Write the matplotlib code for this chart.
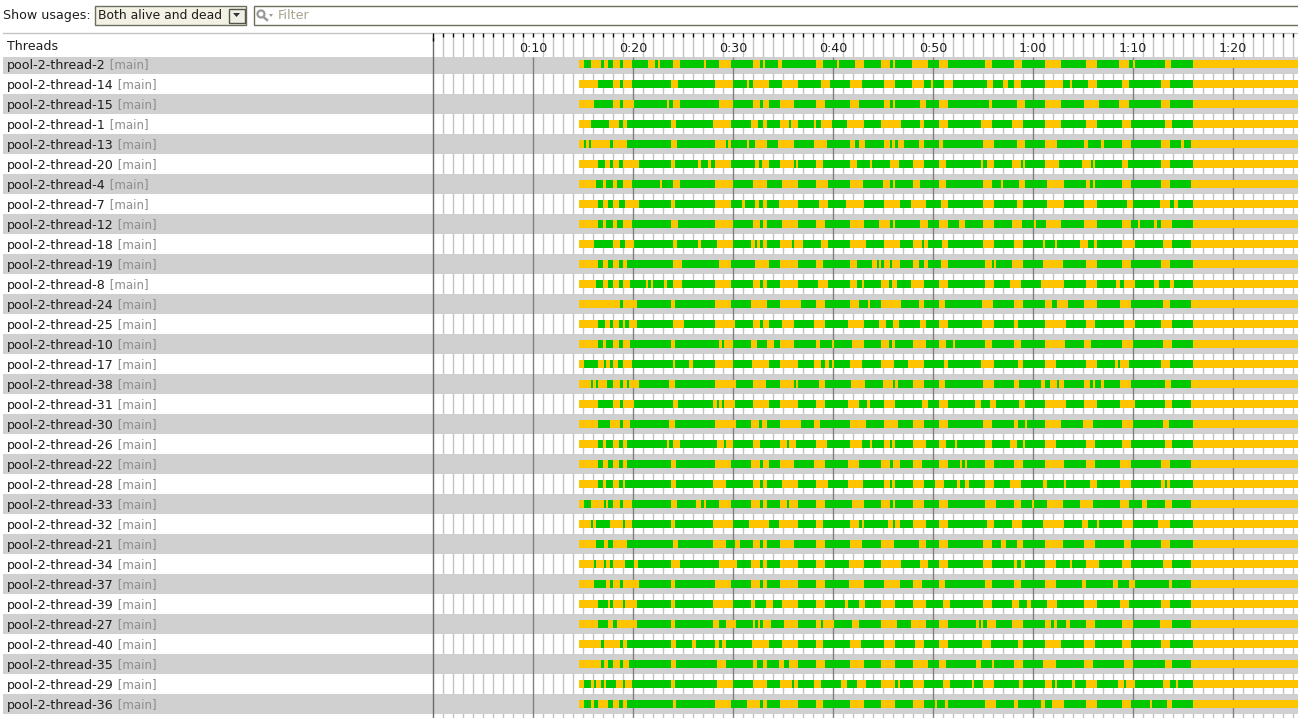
import matplotlib
matplotlib.use("Agg")
import matplotlib.pyplot as plt
from matplotlib.patches import Rectangle, Polygon, Circle

# Thread names top to bottom
thread_names = [
    "pool-2-thread-2", "pool-2-thread-14", "pool-2-thread-15", "pool-2-thread-1",
    "pool-2-thread-13", "pool-2-thread-20", "pool-2-thread-4", "pool-2-thread-7",
    "pool-2-thread-12", "pool-2-thread-18", "pool-2-thread-19", "pool-2-thread-8",
    "pool-2-thread-24", "pool-2-thread-25", "pool-2-thread-10", "pool-2-thread-17",
    "pool-2-thread-38", "pool-2-thread-31", "pool-2-thread-30", "pool-2-thread-26",
    "pool-2-thread-22", "pool-2-thread-28", "pool-2-thread-33", "pool-2-thread-32",
    "pool-2-thread-21", "pool-2-thread-34", "pool-2-thread-37", "pool-2-thread-39",
    "pool-2-thread-27", "pool-2-thread-40", "pool-2-thread-35", "pool-2-thread-29",
    "pool-2-thread-36",
]

# Time axis labels, every 10 seconds
time_ticks = [10, 20, 30, 40, 50, 60, 70, 80]
time_labels = ["0:10", "0:20", "0:30", "0:40", "0:50", "1:00", "1:10", "1:20"]

# Every thread is alive (yellow) from this time on, seconds
alive_start = 14.6
alive_end = 90

# Running periods (green) per thread, (start, end) in seconds
running = [
    [(15.1, 15.8), (16.8, 17.1), (17.5, 18.0), (18.7, 19.0), (19.9, 21.5), (22.2, 22.5), (22.7, 24.0), (24.7, 27.1), (27.3, 28.6), (29.8, 32.0), (32.7, 33.0), (33.2, 34.5), (34.9, 38.3), (39.0, 40.4), (40.6, 42.2), (43.1, 44.8), (45.7, 46.0), (46.2, 47.9), (49.5, 50.6), (51.5, 55.2), (55.9, 58.1), (58.9, 61.2), (62.8, 65.3), (66.4, 68.6), (69.6, 70.0), (70.2, 73.2), (73.8, 76.0)],
    [(16.5, 18.0), (18.7, 19.0), (19.9, 23.8), (24.5, 28.2), (30.0, 31.4), (31.6, 32.0), (33.6, 34.9), (36.5, 38.8), (39.7, 41.7), (42.9, 45.1), (46.2, 47.9), (49.1, 49.8), (50.0, 51.1), (52.0, 55.4), (56.0, 57.0), (57.5, 58.1), (58.8, 61.2), (63.0, 63.7), (63.9, 65.5), (66.4, 68.9), (69.6, 72.8), (73.7, 76.0)],
    [(16.1, 18.0), (18.7, 19.0), (20.1, 23.4), (23.6, 24.0), (24.7, 28.6), (30.0, 32.0), (32.7, 33.0), (33.6, 34.7), (36.1, 38.3), (39.2, 41.7), (42.6, 45.1), (45.7, 46.0), (46.2, 48.7), (49.3, 50.6), (51.5, 55.6), (55.9, 58.4), (59.2, 61.2), (62.8, 65.1), (66.6, 68.6), (69.6, 72.8), (73.7, 76.0)],
    [(15.8, 17.6), (18.6, 19.0), (19.4, 23.8), (24.3, 28.0), (29.8, 31.8), (32.5, 33.0), (33.4, 34.7), (35.6, 35.8), (36.5, 38.1), (38.3, 38.8), (39.9, 41.4), (43.1, 44.8), (46.8, 48.7), (49.1, 50.6), (51.5, 54.8), (55.9, 57.9), (59.0, 61.2), (62.8, 65.3), (66.4, 68.9), (69.8, 73.2), (73.9, 76.0)],
    [(15.1, 15.3), (15.6, 15.8), (17.7, 18.0), (19.4, 23.8), (24.4, 28.2), (29.3, 29.5), (29.8, 31.4), (31.6, 32.2), (33.4, 34.5), (36.1, 38.1), (39.4, 41.7), (42.2, 42.6), (43.2, 45.1), (45.7, 45.9), (46.2, 46.5), (47.1, 48.6), (49.1, 50.6), (51.0, 55.0), (56.1, 58.4), (59.2, 61.2), (62.4, 65.1), (65.5, 66.8), (67.1, 68.9), (69.8, 72.8), (73.7, 74.8), (75.1, 75.8)],
    [(16.5, 17.2), (17.7, 18.0), (18.6, 19.0), (20.6, 23.8), (24.2, 26.5), (26.8, 27.5), (27.8, 28.2), (29.8, 32.2), (32.6, 32.9), (33.6, 34.7), (36.1, 36.3), (36.5, 38.3), (39.0, 41.7), (42.4, 43.7), (43.9, 45.7), (46.6, 48.0), (49.1, 50.6), (51.3, 54.8), (55.0, 55.4), (56.1, 57.9), (58.8, 59.0), (59.2, 61.2), (62.6, 64.9), (65.8, 66.0), (66.2, 68.9), (69.5, 72.8), (73.7, 76.0)],
    [(16.3, 17.0), (17.3, 18.0), (18.4, 19.0), (19.9, 22.7), (22.9, 24.0), (24.7, 28.2), (30.0, 32.0), (33.4, 34.9), (36.5, 38.3), (39.5, 41.7), (43.0, 45.0), (45.7, 46.0), (46.2, 48.0), (48.7, 50.6), (51.3, 55.0), (55.9, 56.8), (57.0, 58.6), (59.2, 61.4), (63.1, 65.3), (65.7, 66.0), (66.2, 68.9), (69.8, 72.8), (73.7, 75.8)],
    [(16.5, 17.0), (17.5, 18.0), (18.6, 19.2), (20.6, 23.8), (24.2, 28.2), (29.8, 30.9), (31.2, 32.2), (32.6, 33.0), (33.4, 34.6), (36.5, 38.6), (39.5, 41.3), (43.1, 45.1), (46.7, 47.8), (49.3, 50.8), (51.5, 55.0), (56.1, 58.4), (59.0, 61.4), (63.1, 65.1), (66.4, 69.4), (70.0, 72.7), (73.7, 74.1), (74.5, 76.0)],
    [(16.5, 17.0), (17.3, 18.0), (18.4, 19.0), (19.9, 23.8), (24.5, 28.2), (30.0, 32.0), (32.7, 33.0), (33.4, 34.9), (36.5, 38.3), (39.2, 41.7), (43.1, 44.6), (45.7, 46.0), (46.2, 48.7), (49.5, 50.6), (51.5, 52.6), (53.2, 55.0), (56.1, 57.9), (58.9, 60.1), (60.3, 61.3), (62.8, 65.1), (66.4, 68.9), (69.8, 70.5), (70.7, 72.1), (72.4, 72.8), (73.9, 76.0)],
    [(16.1, 18.0), (18.7, 19.2), (20.1, 24.0), (24.4, 26.5), (26.8, 28.4), (30.0, 31.8), (32.2, 32.4), (32.7, 33.0), (33.4, 34.7), (35.9, 36.1), (37.0, 38.8), (39.5, 41.7), (43.3, 45.1), (46.7, 48.0), (48.9, 49.1), (49.5, 50.9), (51.5, 55.0), (56.1, 58.1), (59.0, 61.0), (61.2, 62.2), (62.4, 64.7), (65.5, 66.1), (66.4, 68.9), (70.2, 73.0), (73.9, 75.8)],
    [(16.5, 17.0), (17.5, 18.0), (18.6, 19.0), (19.4, 24.0), (24.9, 28.6), (29.8, 32.2), (33.6, 34.7), (36.5, 38.3), (39.0, 41.7), (42.4, 43.9), (44.4, 44.6), (44.8, 45.1), (45.7, 45.9), (46.7, 48.0), (48.6, 49.1), (49.5, 50.8), (51.5, 55.2), (55.9, 56.1), (56.3, 57.9), (59.0, 61.0), (63.0, 65.3), (66.4, 68.9), (69.8, 72.8), (73.7, 76.0)],
    [(16.3, 17.0), (17.5, 18.0), (18.6, 19.0), (19.7, 21.3), (21.5, 21.8), (22.0, 23.1), (23.4, 24.0), (24.9, 28.2), (29.8, 32.0), (32.7, 33.0), (33.4, 34.7), (36.5, 38.5), (39.5, 41.7), (42.4, 42.9), (43.1, 44.8), (45.6, 45.9), (46.4, 47.8), (49.1, 50.6), (51.5, 55.2), (56.1, 57.7), (58.8, 60.8), (63.1, 65.3), (66.4, 68.3), (68.7, 69.1), (70.2, 72.1), (72.6, 73.7), (74.1, 76.0)],
    [(18.7, 19.0), (20.4, 23.8), (24.2, 28.2), (29.8, 31.8), (33.4, 34.7), (36.8, 38.3), (39.2, 41.7), (42.6, 43.5), (43.7, 44.8), (46.8, 48.6), (49.1, 50.6), (51.2, 54.9), (56.0, 58.1), (59.0, 61.2), (61.9, 62.4), (63.5, 65.1), (66.4, 68.7), (69.8, 73.0), (73.7, 75.8)],
    [(16.5, 17.2), (17.7, 18.0), (18.6, 19.0), (19.2, 19.6), (20.4, 24.0), (25.1, 28.2), (30.2, 32.0), (32.7, 33.0), (33.6, 34.9), (36.1, 38.1), (39.2, 41.5), (43.1, 44.6), (45.3, 46.0), (46.6, 48.7), (49.3, 50.6), (51.5, 54.9), (56.1, 58.1), (58.5, 61.2), (63.3, 65.3), (66.2, 69.1), (70.2, 72.8), (73.9, 76.0)],
    [(16.5, 17.0), (17.3, 18.0), (18.6, 19.0), (19.7, 23.8), (24.2, 28.6), (28.9, 29.1), (30.0, 31.8), (32.4, 33.4), (34.1, 34.7), (36.1, 38.3), (38.7, 39.9), (40.1, 41.9), (43.1, 44.8), (45.6, 45.9), (46.2, 48.0), (49.3, 50.6), (51.3, 52.0), (52.2, 55.2), (55.9, 58.1), (58.8, 61.2), (63.2, 65.1), (65.8, 68.9), (70.0, 73.0), (73.9, 76.0)],
    [(15.1, 16.5), (17.1, 17.3), (17.7, 18.0), (18.5, 19.0), (19.9, 24.0), (24.2, 25.6), (26.0, 28.2), (30.0, 31.9), (33.6, 34.7), (36.5, 38.1), (38.8, 39.2), (39.6, 39.9), (40.1, 41.7), (42.9, 44.8), (46.1, 47.5), (49.1, 51.1), (51.5, 54.8), (56.1, 58.5), (59.0, 61.2), (62.3, 65.3), (66.4, 68.2), (68.5, 68.7), (69.6, 72.8), (73.7, 76.0)],
    [(15.8, 16.0), (16.3, 16.5), (17.4, 18.0), (18.7, 19.0), (19.4, 19.6), (20.6, 23.6), (24.2, 28.2), (30.3, 32.0), (33.3, 34.7), (36.1, 36.3), (36.5, 38.6), (39.2, 41.8), (43.2, 45.0), (46.0, 46.2), (46.5, 48.0), (49.1, 50.6), (51.2, 55.0), (56.1, 58.1), (58.6, 60.8), (61.2, 61.7), (62.4, 62.6), (63.1, 65.1), (65.7, 66.0), (66.2, 66.8), (67.1, 68.7), (69.8, 73.2), (73.8, 75.8)],
    [(16.5, 18.0), (18.7, 19.0), (20.1, 24.0), (24.5, 28.0), (28.4, 28.6), (28.9, 29.1), (30.2, 32.0), (33.6, 34.7), (36.5, 38.3), (39.2, 41.5), (42.6, 43.4), (43.7, 45.1), (46.2, 48.9), (49.5, 50.6), (51.5, 54.2), (54.8, 55.7), (56.3, 58.6), (59.2, 61.2), (63.3, 65.1), (66.4, 68.7), (70.2, 73.2), (73.9, 75.8)],
    [(16.5, 17.7), (18.7, 19.0), (19.7, 23.6), (24.2, 28.2), (30.3, 31.8), (32.6, 32.9), (33.4, 34.7), (36.8, 38.1), (38.7, 41.7), (43.3, 45.1), (46.5, 48.0), (49.1, 50.6), (51.5, 55.0), (55.9, 58.1), (58.5, 59.2), (59.4, 61.2), (62.8, 65.0), (66.0, 68.9), (70.0, 73.0), (73.6, 76.0)],
    [(16.5, 17.0), (17.3, 18.0), (18.6, 19.0), (19.4, 23.4), (23.6, 24.0), (24.7, 28.4), (29.1, 29.3), (30.0, 32.0), (32.7, 34.7), (35.4, 35.6), (36.3, 38.3), (39.4, 41.7), (42.9, 43.7), (43.9, 45.1), (45.7, 45.9), (46.2, 48.0), (49.3, 50.6), (51.3, 52.2), (52.4, 55.2), (55.9, 57.7), (58.4, 59.0), (59.2, 61.2), (62.3, 65.3), (66.2, 68.9), (69.8, 73.2), (73.9, 76.0)],
    [(16.5, 17.0), (17.5, 18.0), (18.6, 19.0), (19.4, 23.8), (24.3, 28.2), (29.8, 31.8), (32.7, 33.0), (33.6, 34.7), (36.1, 38.1), (39.2, 41.5), (42.6, 44.8), (45.7, 46.0), (46.7, 48.0), (48.9, 50.6), (51.5, 52.7), (52.9, 53.2), (53.4, 55.2), (56.1, 58.1), (59.0, 61.2), (63.1, 65.3), (66.2, 68.7), (69.8, 72.8), (73.7, 75.8)],
    [(16.5, 17.0), (17.3, 18.0), (18.6, 19.0), (19.2, 23.8), (24.3, 28.0), (29.3, 32.0), (32.7, 33.0), (33.4, 34.9), (36.5, 38.3), (39.5, 41.5), (43.0, 45.1), (45.7, 45.9), (46.2, 48.0), (49.1, 50.2), (51.1, 52.4), (52.7, 53.2), (53.6, 55.2), (56.1, 57.7), (58.8, 61.0), (61.4, 63.1), (63.3, 65.7), (66.4, 68.7), (69.8, 72.8), (73.2, 73.4), (73.7, 76.0)],
    [(15.1, 15.8), (17.1, 17.3), (17.5, 18.0), (18.7, 19.0), (19.9, 23.8), (24.4, 26.3), (26.8, 27.1), (27.3, 28.6), (29.8, 31.8), (32.7, 33.0), (33.4, 34.7), (35.4, 35.6), (36.5, 38.3), (39.2, 41.9), (43.1, 44.8), (45.7, 46.0), (46.2, 48.0), (49.1, 50.6), (51.5, 55.2), (56.3, 58.1), (58.8, 59.9), (60.1, 61.4), (63.0, 64.7), (66.0, 68.7), (69.6, 70.9), (71.4, 73.2), (73.9, 75.8)],
    [(15.8, 16.0), (16.3, 17.7), (19.0, 19.2), (19.9, 23.8), (24.2, 28.0), (30.0, 31.6), (33.6, 34.6), (36.5, 38.3), (39.0, 41.7), (42.6, 42.9), (43.1, 45.5), (46.0, 46.2), (46.7, 48.0), (49.3, 50.6), (51.5, 55.4), (56.1, 57.9), (58.9, 61.0), (63.1, 64.9), (65.5, 66.4), (66.6, 68.9), (70.0, 72.5), (73.7, 76.0)],
    [(16.3, 17.1), (17.5, 18.0), (19.4, 24.0), (24.5, 28.0), (29.3, 30.2), (30.7, 32.0), (32.7, 33.0), (33.4, 34.7), (36.1, 38.3), (39.2, 41.7), (42.9, 44.8), (46.1, 48.6), (49.3, 50.6), (51.5, 55.0), (55.9, 56.8), (57.3, 58.4), (59.0, 61.2), (63.0, 65.1), (66.2, 69.1), (69.8, 72.8), (73.7, 76.0)],
    [(16.1, 16.3), (17.1, 17.3), (17.7, 18.0), (19.2, 20.1), (20.5, 23.8), (24.7, 28.6), (30.4, 31.8), (32.7, 33.0), (33.4, 34.7), (36.5, 38.3), (39.2, 41.6), (43.1, 44.8), (46.8, 48.7), (49.5, 50.6), (51.5, 55.0), (55.9, 58.1), (58.4, 58.8), (59.2, 61.2), (62.3, 63.7), (63.9, 65.3), (66.6, 68.9), (69.8, 73.0), (73.9, 75.8)],
    [(16.1, 17.3), (17.7, 18.0), (18.7, 19.0), (20.6, 23.8), (24.2, 28.2), (29.8, 31.8), (32.7, 33.0), (33.4, 34.7), (36.5, 38.3), (39.2, 41.6), (43.1, 45.1), (46.7, 48.0), (48.9, 50.6), (51.2, 55.2), (55.9, 58.1), (58.8, 61.2), (62.3, 64.9), (65.3, 68.0), (68.5, 69.6), (70.2, 73.6), (73.9, 75.8)],
    [(16.5, 17.5), (17.7, 18.0), (19.0, 19.2), (20.4, 23.8), (24.2, 28.0), (30.0, 31.8), (32.2, 33.3), (34.0, 34.9), (36.5, 38.3), (39.2, 41.2), (41.5, 42.6), (43.2, 44.8), (46.2, 48.0), (49.3, 51.0), (51.7, 55.0), (55.9, 57.9), (58.6, 59.4), (59.8, 61.4), (62.4, 65.1), (66.4, 68.7), (69.6, 72.8), (73.7, 75.8)],
    [(16.5, 17.5), (18.0, 18.4), (20.4, 23.8), (24.2, 28.0), (28.6, 29.3), (30.3, 32.0), (32.2, 32.5), (32.7, 33.0), (33.8, 35.1), (36.5, 38.3), (38.8, 39.0), (40.1, 41.9), (42.6, 44.8), (46.4, 47.8), (49.3, 50.6), (51.5, 54.3), (54.6, 54.8), (55.0, 55.4), (56.3, 57.9), (59.0, 61.2), (61.8, 62.1), (62.4, 63.3), (63.7, 65.3), (66.2, 68.9), (70.0, 72.7), (73.9, 75.8)],
    [(16.8, 17.1), (18.7, 19.0), (19.4, 23.8), (24.3, 25.9), (26.3, 28.2), (28.6, 28.9), (29.3, 31.9), (33.6, 34.9), (36.5, 38.3), (39.0, 41.7), (42.8, 45.1), (46.2, 48.2), (49.1, 50.6), (51.5, 54.9), (55.8, 58.5), (59.0, 61.2), (62.8, 65.1), (66.2, 68.9), (69.8, 72.8), (73.7, 76.0)],
    [(16.8, 17.1), (17.5, 18.0), (18.7, 19.0), (19.6, 23.8), (24.3, 28.4), (29.3, 32.0), (32.4, 33.0), (33.4, 34.6), (35.1, 35.6), (36.5, 38.3), (39.2, 41.7), (43.1, 44.8), (46.2, 48.0), (49.5, 50.6), (51.3, 54.3), (54.8, 55.9), (56.1, 58.1), (59.0, 61.0), (62.3, 65.1), (66.0, 69.1), (70.0, 73.2), (73.9, 75.8)],
    [(15.1, 15.8), (16.1, 16.3), (16.8, 17.1), (17.3, 18.3), (19.0, 19.2), (19.9, 23.8), (24.2, 28.4), (30.0, 32.0), (33.4, 34.7), (35.9, 36.1), (36.5, 38.1), (38.8, 40.8), (41.4, 42.4), (43.3, 44.8), (46.2, 46.5), (46.7, 48.0), (49.1, 51.0), (51.7, 53.9), (54.1, 55.0), (56.1, 58.6), (59.0, 61.2), (61.9, 62.2), (62.4, 63.9), (64.2, 65.3), (66.4, 68.5), (69.1, 69.3), (70.2, 73.0), (73.7, 74.3), (74.5, 76.0)],
    [(15.1, 15.8), (16.1, 16.5), (17.5, 18.0), (18.6, 19.0), (19.4, 24.0), (24.3, 28.2), (29.8, 31.4), (32.7, 33.0), (33.4, 34.7), (36.5, 38.3), (39.0, 41.7), (43.1, 44.8), (46.2, 48.0), (49.1, 50.2), (50.4, 51.2), (51.5, 55.2), (56.3, 58.1), (58.5, 60.8), (61.2, 61.9), (63.1, 65.3), (66.4, 68.9), (69.8, 71.7), (71.9, 73.4), (73.9, 76.0)],
]

W, H = 1298, 718
ROW_H = 20
FIRST_ROW_Y = 64  # pixel centre of the first row
TEXT = "#1c1c1c"
FONT = 9.1

fig = plt.figure(figsize=(W / 100, H / 100), dpi=100, facecolor="white")
plt.rcParams["font.family"] = "DejaVu Sans"

# Whole-figure axes in pixels for the toolbar and the thread list
ui = fig.add_axes([0, 0, 1, 1])
ui.set_xlim(0, W)
ui.set_ylim(H, 0)
ui.axis("off")

# Toolbar
ui.text(3, 15.5, "Show usages:", fontsize=FONT, va="center", color=TEXT)
ui.add_patch(Rectangle((95, 5.5), 151, 19, fc="#f3f1e3", ec="#6e6e5e", lw=1))
ui.text(98, 15.5, "Both alive and dead", fontsize=8.95, va="center", color=TEXT)
ui.add_patch(Rectangle((228.5, 8.5), 16, 14, fc="#f0efe6", ec="#55554a", lw=1))
ui.add_patch(Polygon([(233, 13), (240, 13), (236.5, 17)], fc="#333333", ec="none"))
ui.add_patch(Rectangle((253.5, 5.5), W, 19, fc="white", ec="#6e6e5e", lw=1))
ui.add_patch(Circle((261, 14), 3.5, fc="none", ec="#9a9a9a", lw=1.6))
ui.plot([263.5, 267], [17, 20], color="#9a9a9a", lw=1.8)
ui.add_patch(Polygon([(269, 14), (273, 14), (271, 17)], fc="#9a9a9a", ec="none"))
ui.text(278, 15.5, "Filter", fontsize=FONT, va="center", color="#a8a48e")
ui.plot([3, W], [32.5, 32.5], color="#c4c4c4", lw=1)

# Thread list
ui.text(7, 46, "Threads", fontsize=FONT, va="center", color=TEXT)
for i, name in enumerate(thread_names):
    y = FIRST_ROW_Y + ROW_H * i
    if i % 2 == 0:
        top = max(y - ROW_H / 2, 57)
        ui.add_patch(Rectangle((3, top), 430, y + ROW_H / 2 - top, fc="#d0d0d0", ec="none"))
    label = ui.text(7, y + 1, name, fontsize=FONT, va="center", color=TEXT)
    ui.annotate(" [main]", xy=(1, 0), xycoords=label, va="bottom", fontsize=8.5, color="#8c8c8c")

# Timeline axes: x in seconds (10 px per second), y in rows
left_px = 432
ax = fig.add_axes([left_px / W, 0, 1 - left_px / W, (H - 33) / H])
ax.patch.set_alpha(0)
ax.set_xlim(-0.1, (W - 433) / 10)
ax.set_ylim((H - FIRST_ROW_Y) / ROW_H, (33 - FIRST_ROW_Y) / ROW_H)
header_y = (57 - FIRST_ROW_Y) / ROW_H
tick_top = (37 - FIRST_ROW_Y) / ROW_H
bottom = ax.get_ylim()[0]

seconds = list(range(0, 87))
ax.set_xticks(seconds)
ax.set_xticklabels([])
ax.set_yticks([])
ax.tick_params(axis="x", top=True, bottom=False, direction="in", length=3, width=1, color="black")
for side in ax.spines.values():
    side.set_visible(False)

# Light line each second, covered by the grey rows
ax.vlines([s for s in seconds if s % 10], tick_top, bottom, color="#c2c2c2", lw=1, zorder=1)
for i in range(len(thread_names)):
    if i % 2 == 0:
        top = max(i - 0.5, header_y)
        ax.barh((top + i + 0.5) / 2, 100, left=-1, height=i + 0.5 - top, color="#d0d0d0", zorder=2)

# Dark line each 10 seconds starts under the labels, except the first
ax.vlines(time_ticks, header_y, bottom, color="#808080", lw=1, zorder=3)
ax.vlines(0, tick_top, bottom, color="#6a6a6a", lw=1, zorder=3)
ax.vlines(0, tick_top, (41 - FIRST_ROW_Y) / ROW_H, color="black", lw=1, zorder=3)

for t, text in zip(time_ticks, time_labels):
    ax.text(t, (49 - FIRST_ROW_Y) / ROW_H, text, ha="center", va="center", fontsize=FONT,
            color=TEXT, zorder=4)

# Alive bar with the running periods on top
for i, runs in enumerate(running):
    ax.barh(i, alive_end - alive_start, left=alive_start, height=0.42, color="#ffc400", zorder=5,
            antialiased=False)
    ax.broken_barh([(s, e - s) for s, e in runs], (i - 0.21, 0.42), facecolors="#00c800", zorder=6,
                   antialiased=False)

fig.savefig("out.png", dpi=100)
